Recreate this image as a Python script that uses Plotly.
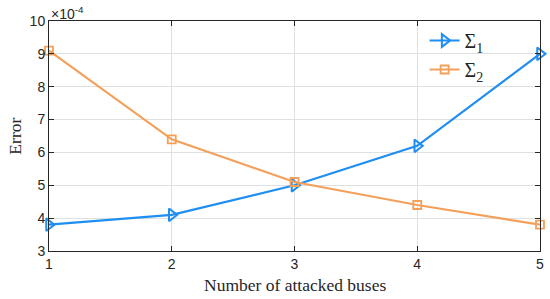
import plotly.graph_objects as go

buses = [1, 2, 3, 4, 5]
sigma1 = [3.8, 4.1, 5.0, 6.2, 9.0]
sigma2 = [9.1, 6.4, 5.1, 4.4, 3.8]
y_ticks = [3, 4, 5, 6, 7, 8, 9, 10]

blue = "#1f8ef1"
orange = "#f5a05a"
serif = "Liberation Serif, Times New Roman, serif"
sans = "Liberation Sans, Arial, sans-serif"

fig = go.Figure()
fig.add_trace(go.Scatter(
    x=buses, y=sigma1, mode="lines+markers", name="Σ<sub>1</sub>",
    line=dict(color=blue, width=2.2),
    marker=dict(symbol="triangle-right-open", size=11, color=blue, line=dict(width=2, color=blue)),
    cliponaxis=False,
))
fig.add_trace(go.Scatter(
    x=buses, y=sigma2, mode="lines+markers", name="Σ<sub>2</sub>",
    line=dict(color=orange, width=2.2),
    marker=dict(symbol="square-open", size=8, color=orange, line=dict(width=1.8, color=orange)),
    cliponaxis=False,
))

axis_common = dict(
    showline=True, linecolor="#262626", linewidth=1, mirror="ticks",
    ticks="inside", ticklen=5, tickcolor="#262626",
    showgrid=True, gridcolor="#e0e0e0", gridwidth=1, zeroline=False,
    tickfont=dict(family=sans, size=14, color="#262626"),
    automargin=False,
)

fig.update_xaxes(range=[1, 5], tickvals=buses, **axis_common)
fig.update_yaxes(range=[3, 10], tickvals=y_ticks, **axis_common)

fig.add_annotation(
    x=0, y=1, xref="paper", yref="paper", xanchor="left", yanchor="bottom",
    text="×10<sup>-4</sup>", showarrow=False, yshift=-3,
    font=dict(family=sans, size=14, color="#262626"),
)
fig.add_annotation(
    x=0.5, y=-0.148, xref="paper", yref="paper", xanchor="center", yanchor="middle",
    text="Number of attacked buses", showarrow=False,
    font=dict(family=serif, size=17.5, color="#262626"),
)
fig.add_annotation(
    x=-0.07, y=0.5, xref="paper", yref="paper", xanchor="center", yanchor="middle",
    text="Error", showarrow=False, textangle=-90,
    font=dict(family=serif, size=17.5, color="#262626"),
)

fig.update_layout(
    width=550, height=299,
    margin=dict(l=49, r=10, t=21, b=48),
    plot_bgcolor="white", paper_bgcolor="white",
    showlegend=True,
    legend=dict(
        x=0.765, y=1.0, xanchor="left", yanchor="top",
        bgcolor="rgba(255,255,255,0)", borderwidth=0,
        font=dict(family=serif, size=20, color="#262626"),
        tracegroupgap=0,
    ),
)

fig.write_html("out.html", config={"displayModeBar": False},
               post_script="document.body.style.margin='0px';")
